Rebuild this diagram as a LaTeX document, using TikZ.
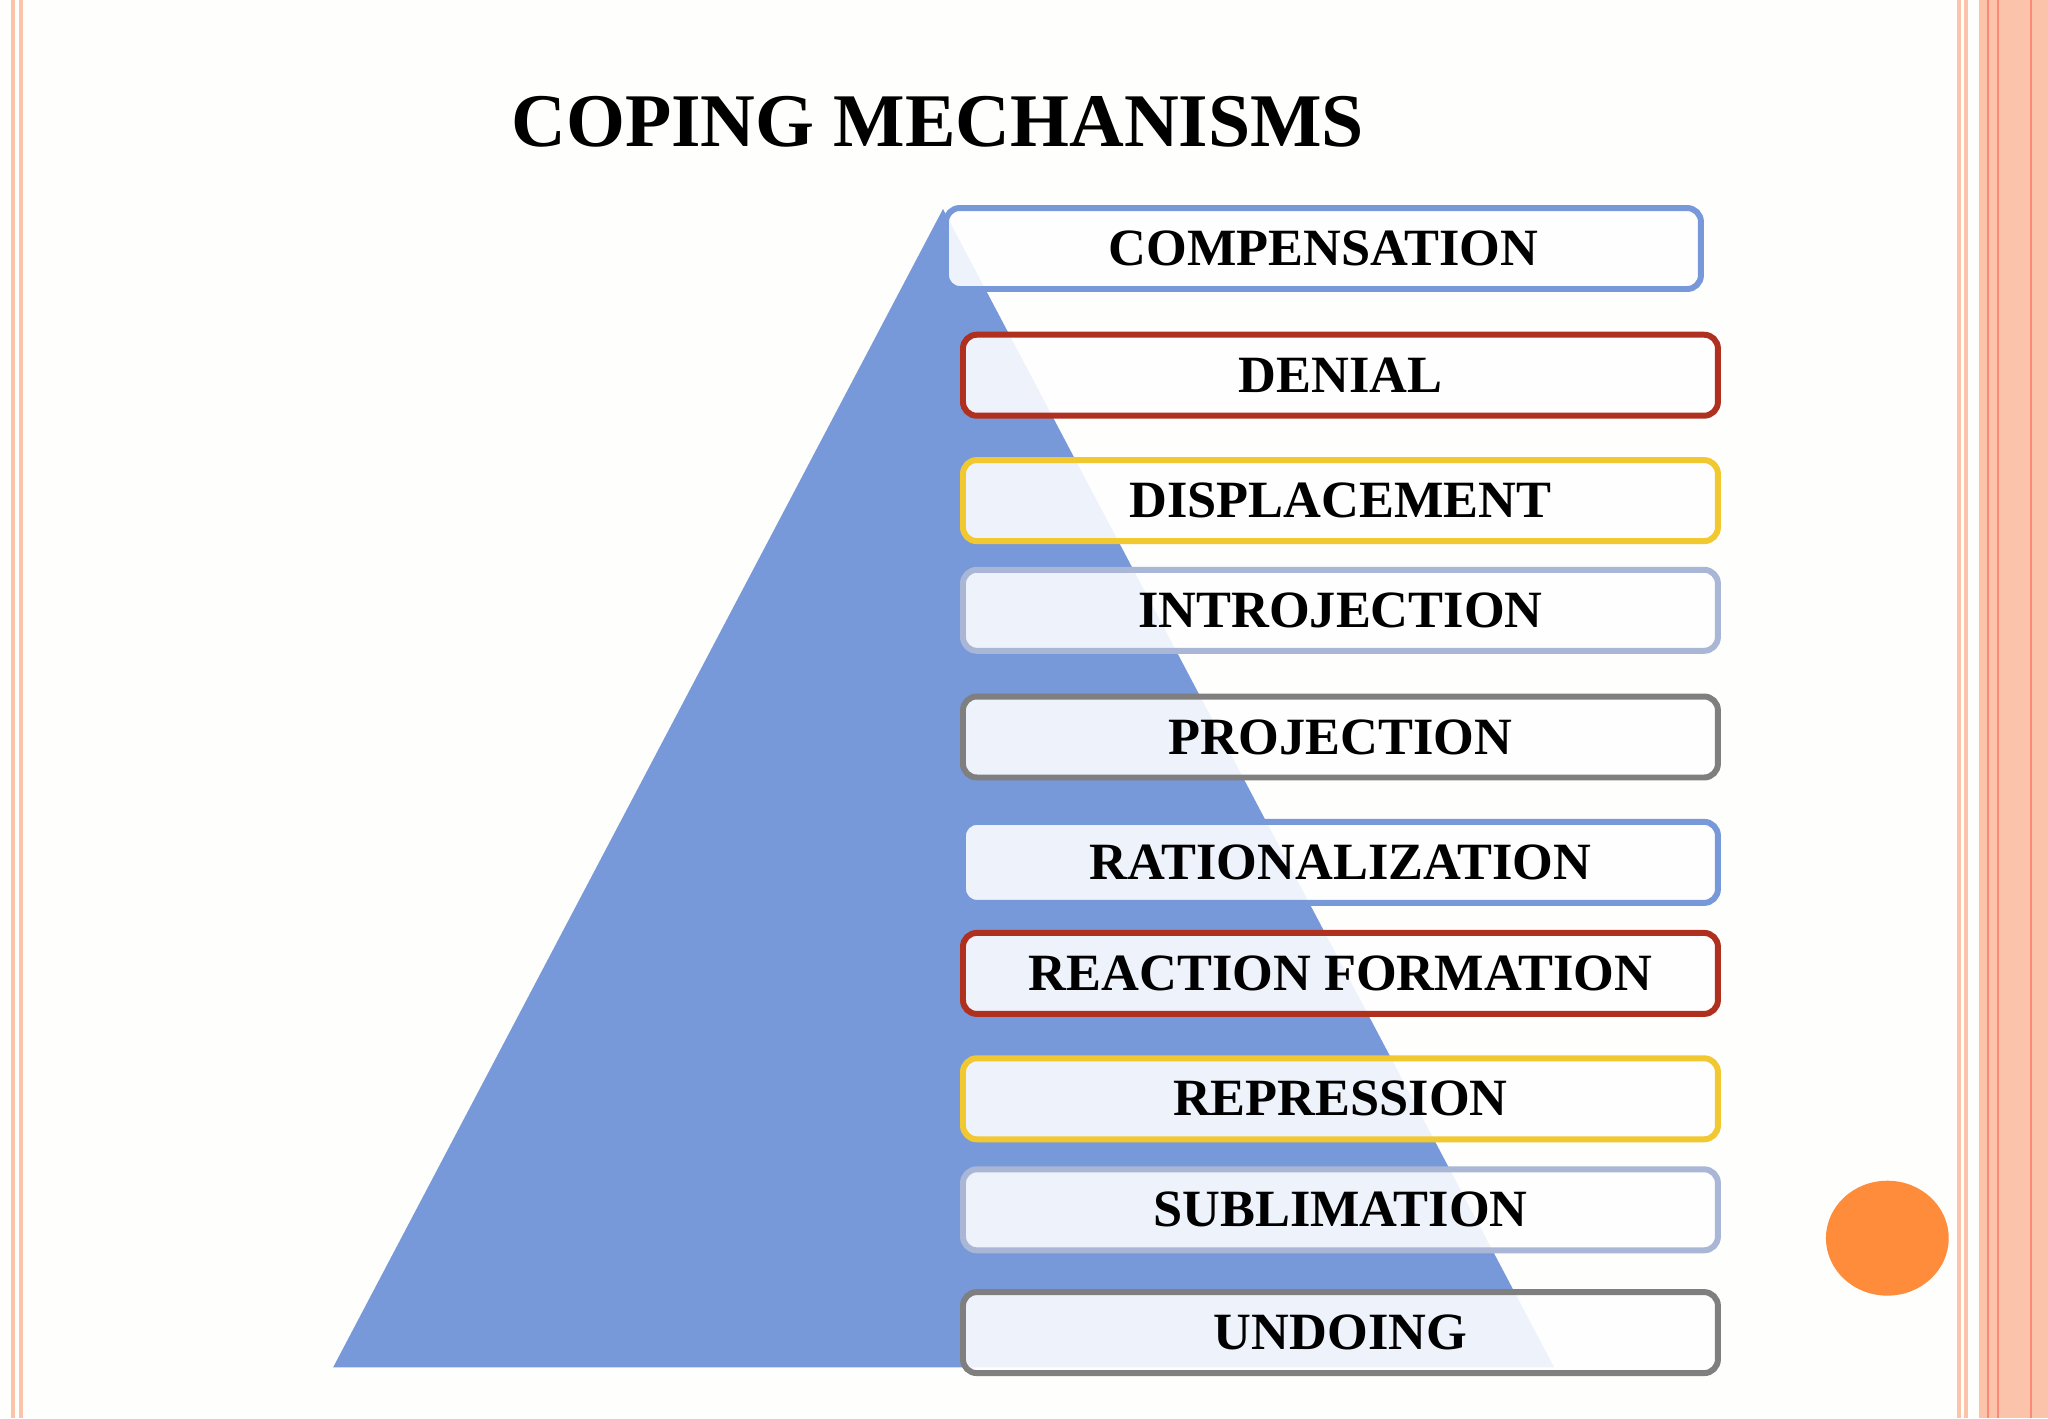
\documentclass[tikz,border=0pt]{standalone}
\usepackage{fontspec}
\setmainfont{Liberation Serif}
\begin{document}
\begin{tikzpicture}[x=0.01cm,y=-0.01cm,
  lbl/.style={rounded corners=3pt,line width=1.3pt,fill=white,fill opacity=0.88,text opacity=1,
    minimum width=578*0.01cm,minimum height=62*0.01cm,font=\bfseries\fontsize{11.4pt}{12pt}\selectfont,anchor=north west,inner sep=0pt}]
\definecolor{bg}{HTML}{FEFEFC}
\definecolor{tri}{HTML}{7799D9}
\definecolor{cred}{HTML}{B03020}
\definecolor{cyel}{HTML}{F2C830}
\definecolor{clb}{HTML}{A9B6D6}
\definecolor{cgr}{HTML}{7F7F7F}
\definecolor{salm}{HTML}{FBC4AA}
\definecolor{org}{HTML}{FF8C3A}
\fill[bg] (0,0) rectangle (1568,1086);
\useasboundingbox (0,0) rectangle (1568,1086);
\draw[salm,line width=0.8pt] (10,0)--(10,1086) (16,0)--(16,1086);
\draw[salm,line width=0.8pt] (1500,0)--(1500,1086) (1505,0)--(1505,1086);
\fill[salm] (1515,0) rectangle (1568,1086);
\draw[salm!70!red,line width=0.4pt] (1522,0)--(1522,1086) (1530,0)--(1530,1086) (1555,0)--(1555,1086);
\node[font=\bfseries\fontsize{16.5pt}{18pt}\selectfont] (title) at (718,93) {COPING MECHANISMS};
\fill[tri] (722,160) -- (1190,1047) -- (255,1047) -- cycle;
\node[lbl,draw=tri] (b1) at (722,157) {COMPENSATION};
\node[lbl,draw=cred] (b2) at (735,254) {DENIAL};
\node[lbl,draw=cyel] (b3) at (735,350) {DISPLACEMENT};
\node[lbl,draw=clb] (b4) at (735,434) {INTROJECTION};
\node[lbl,draw=cgr] (b5) at (735,531) {PROJECTION};
\node[lbl,draw=tri] (b6) at (735,627) {RATIONALIZATION};
\node[lbl,draw=cred] (b7) at (735,712) {REACTION FORMATION};
\node[lbl,draw=cyel] (b8) at (735,808) {REPRESSION};
\node[lbl,draw=clb] (b9) at (735,893) {SUBLIMATION};
\node[lbl,draw=cgr] (b10) at (735,987) {UNDOING};
\fill[org] (1445,948) ellipse (47 and 44);
\end{tikzpicture}
\end{document}
